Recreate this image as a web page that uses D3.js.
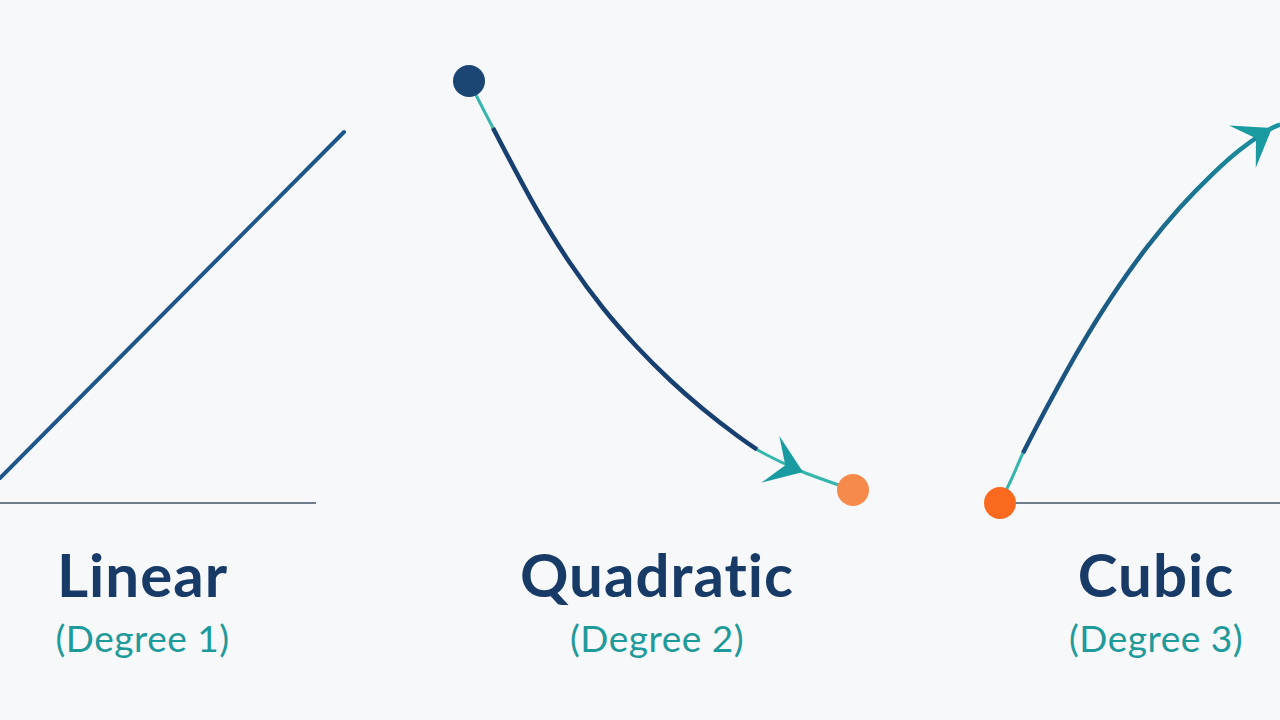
<!DOCTYPE html>
<html>
<head>
<meta charset="utf-8">
<script src="https://cdn.jsdelivr.net/npm/d3@7"></script>
<style>
  html, body { margin: 0; padding: 0; background: #f7f8fa; }
  svg { display: block; }
  text { font-variant-ligatures: none; }
</style>
</head>
<body>
<script>
// --- data (x / y in chart units, y grows upward) ---
const panels = ['Linear', 'Quadratic', 'Cubic'];
const degreeLabels = ['(Degree 1)', '(Degree 2)', '(Degree 3)'];
const panelCenters = [14.25, 65.7, 115.6];

const linearPts = [[0, 24.2], [34.4, 58.8]];
const baseLeft = [[0, 21.7], [31.6, 21.7]];
const baseRight = [[100, 21.7], [128, 21.7]];

const quadPts = [
  [46.9, 63.9], [47.6, 62.5], [49.3, 59.2], [53.7, 51.0], [57.0, 45.7],
  [60.3, 41.2], [63.7, 37.3], [67.0, 34.0], [70.3, 31.1], [73.7, 28.45],
  [75.7, 27.05], [78.3, 25.7], [80.3, 24.8], [85.3, 23.0]
];
const quadNavy = [2, 10];   // index range drawn dark
const quadArrow = 12;       // index of arrow tip

const cubicPts = [
  [100.0, 21.7], [101.2, 24.2], [102.3, 26.7], [104.7, 31.3], [108.0, 37.24],
  [111.3, 42.52], [114.7, 47.28], [118.0, 51.24], [121.3, 54.64], [124.0, 57.02],
  [127.2, 59.2], [128.0, 59.55]
];
const cubicNavy = [2, 11];
const cubicArrow = 10;

// --- setup ---
const W = 1280, H = 720;
const x = d3.scaleLinear().domain([0, 128]).range([0, W]);
const y = d3.scaleLinear().domain([0, 72]).range([H, 0]);

const svg = d3.select('body').append('svg')
  .attr('width', W)
  .attr('height', H);

svg.append('rect').attr('width', W).attr('height', H).attr('fill', '#f7f8fa');

const defs = svg.append('defs');
const grad = defs.append('linearGradient')
  .attr('id', 'cubicGrad')
  .attr('gradientUnits', 'userSpaceOnUse')
  .attr('x1', x(cubicPts[cubicNavy[0]][0])).attr('y1', y(cubicPts[cubicNavy[0]][1]))
  .attr('x2', x(cubicPts[cubicNavy[1]][0])).attr('y2', y(cubicPts[cubicNavy[1]][1]));
grad.append('stop').attr('offset', '0%').attr('stop-color', '#1b4d7c');
grad.append('stop').attr('offset', '55%').attr('stop-color', '#1c6288');
grad.append('stop').attr('offset', '100%').attr('stop-color', '#1993a0');

const line = d3.line()
  .x(d => x(d[0]))
  .y(d => y(d[1]))
  .curve(d3.curveCatmullRom.alpha(0.5));

const straight = d3.line().x(d => x(d[0])).y(d => y(d[1]));

// baselines
[baseLeft, baseRight].forEach(b => {
  svg.append('path')
    .attr('d', straight(b))
    .attr('stroke', '#6f7d8c')
    .attr('stroke-width', 2)
    .attr('fill', 'none');
});

// linear
svg.append('path')
  .attr('d', straight(linearPts))
  .attr('stroke', '#1f568a')
  .attr('stroke-width', 4)
  .attr('stroke-linecap', 'round')
  .attr('fill', 'none');

// curve with light ends and a dark middle part
function drawCurve(pts, navy, darkStroke) {
  svg.append('path')
    .attr('d', line(pts))
    .attr('stroke', '#35b5ac')
    .attr('stroke-width', 3)
    .attr('fill', 'none');
  svg.append('path')
    .attr('d', line(pts.slice(navy[0], navy[1] + 1)))
    .attr('stroke', darkStroke)
    .attr('stroke-width', 4.5)
    .attr('stroke-linecap', 'butt')
    .attr('fill', 'none');
}

function drawArrow(pts, i) {
  const p = pts[i], a = pts[i - 1], b = pts[i + 1];
  const ang = Math.atan2(y(b[1]) - y(a[1]), x(b[0]) - x(a[0])) * 180 / Math.PI;
  svg.append('path')
    .attr('d', 'M0,0 L-35,-25 L-19,0 L-35,25 Z')
    .attr('fill', '#1a9ba2')
    .attr('transform', `translate(${x(p[0])},${y(p[1])}) rotate(${ang})`);
}

drawCurve(quadPts, quadNavy, '#173f6f');
drawArrow(quadPts, quadArrow);

drawCurve(cubicPts, cubicNavy, 'url(#cubicGrad)');
drawArrow(cubicPts, cubicArrow);

// end points
const dots = [
  { p: quadPts[0], c: '#1b4673' },
  { p: quadPts[quadPts.length - 1], c: '#f58a4b' },
  { p: cubicPts[0], c: '#fb691e' }
];
svg.selectAll('.dot').data(dots).enter()
  .append('circle')
  .attr('class', 'dot')
  .attr('cx', d => x(d.p[0]))
  .attr('cy', d => y(d.p[1]))
  .attr('r', 16)
  .attr('fill', d => d.c);

// labels
svg.selectAll('.title').data(panels).enter()
  .append('text')
  .attr('class', 'title')
  .attr('x', (d, i) => x(panelCenters[i]))
  .attr('y', y(12.3))
  .attr('text-anchor', 'middle')
  .attr('font-family', 'Lato, "Open Sans", sans-serif')
  .attr('font-weight', 700)
  .attr('font-size', 60)
  .attr('letter-spacing', 1)
  .attr('fill', '#173a66')
  .text(d => d);

svg.selectAll('.degree').data(degreeLabels).enter()
  .append('text')
  .attr('class', 'degree')
  .attr('x', (d, i) => x(panelCenters[i]))
  .attr('y', y(6.8))
  .attr('text-anchor', 'middle')
  .attr('font-family', 'Lato, "Open Sans", sans-serif')
  .attr('font-size', 37)
  .attr('letter-spacing', 0.5)
  .attr('fill', '#1f9a9b')
  .text(d => d);
</script>
</body>
</html>
